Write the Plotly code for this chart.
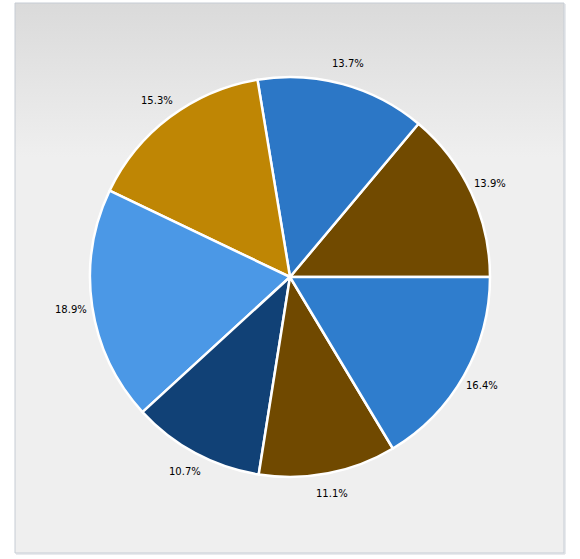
import math
import plotly.graph_objects as go

labels = ["A", "B", "C", "D", "E", "F", "G"]
values = [13.9, 13.7, 15.3, 18.9, 10.7, 11.1, 16.4]
colors = ["#714a00", "#2c77c6", "#bf8604", "#4b98e6", "#114176", "#704900", "#2f7dcd"]

W, H = 580, 559
cx, cy, r = 290, 277, 200
label_r = 221
fx0, fx1, fy0, fy1 = 15, 564, 3, 553

total = sum(values)
# counterclockwise pies in plotly place the first slice's clockwise edge at rotation + its angle
rotation = 90 - 360 * values[0] / total

fig = go.Figure()

# gradient panel background
fig.add_trace(go.Scatter(
    x=[0, 1, 1, 0, 0], y=[0, 0, 1, 1, 0], mode="lines", fill="toself",
    line=dict(width=0), hoverinfo="skip", showlegend=False,
    fillgradient=dict(type="vertical",
                      colorscale=[[0, "#efefef"], [0.72, "#efefef"], [1, "#dadada"]]),
    xaxis="x", yaxis="y"))

fig.add_trace(go.Pie(
    labels=labels, values=values, sort=False, direction="counterclockwise",
    rotation=rotation, textinfo="none", hoverinfo="label+percent",
    marker=dict(colors=colors, line=dict(color="#ffffff", width=2.5)),
    domain=dict(x=[(cx - r) / W, (cx + r) / W], y=[(H - cy - r) / H, (H - cy + r) / H]),
    showlegend=False))

annotations = []
cum = 0.0
for v in values:
    mid = (cum + v / 2) / total * 2 * math.pi
    cum += v
    px = cx + label_r * math.cos(mid)
    py = cy - label_r * math.sin(mid)
    annotations.append(dict(x=px / W, y=1 - py / H, xref="paper", yref="paper",
                            xanchor="center", yanchor="middle",
                            text=f"{v:.1f}%", showarrow=False,
                            font=dict(family="DejaVu Sans", size=10, color="#000000")))

fig.update_layout(
    width=W, height=H, margin=dict(l=0, r=0, t=0, b=0),
    paper_bgcolor="#ffffff", plot_bgcolor="rgba(0,0,0,0)",
    xaxis=dict(domain=[fx0 / W, fx1 / W], range=[0, 1], visible=False, fixedrange=True),
    yaxis=dict(domain=[1 - fy1 / H, 1 - fy0 / H], range=[0, 1], visible=False, fixedrange=True),
    annotations=annotations,
    shapes=[
        dict(type="rect", xref="paper", yref="paper",
             x0=fx0 / W, x1=fx1 / W, y0=1 - fy1 / H, y1=1 - fy0 / H,
             line=dict(color="#c6ccd4", width=1)),
        dict(type="line", xref="paper", yref="paper",
             x0=(fx1 + 1) / W, x1=(fx1 + 1) / W, y0=1 - (fy1 + 1) / H, y1=1 - (fy0 + 1) / H,
             line=dict(color="#d2d6dc", width=1)),
        dict(type="line", xref="paper", yref="paper",
             x0=(fx0 + 1) / W, x1=(fx1 + 1) / W, y0=1 - (fy1 + 1) / H, y1=1 - (fy1 + 1) / H,
             line=dict(color="#d2d6dc", width=1)),
    ],
)

fig.write_html("out.html", config={"displayModeBar": False},
               post_script="document.body.style.margin='0';document.body.style.overflow='hidden';")
